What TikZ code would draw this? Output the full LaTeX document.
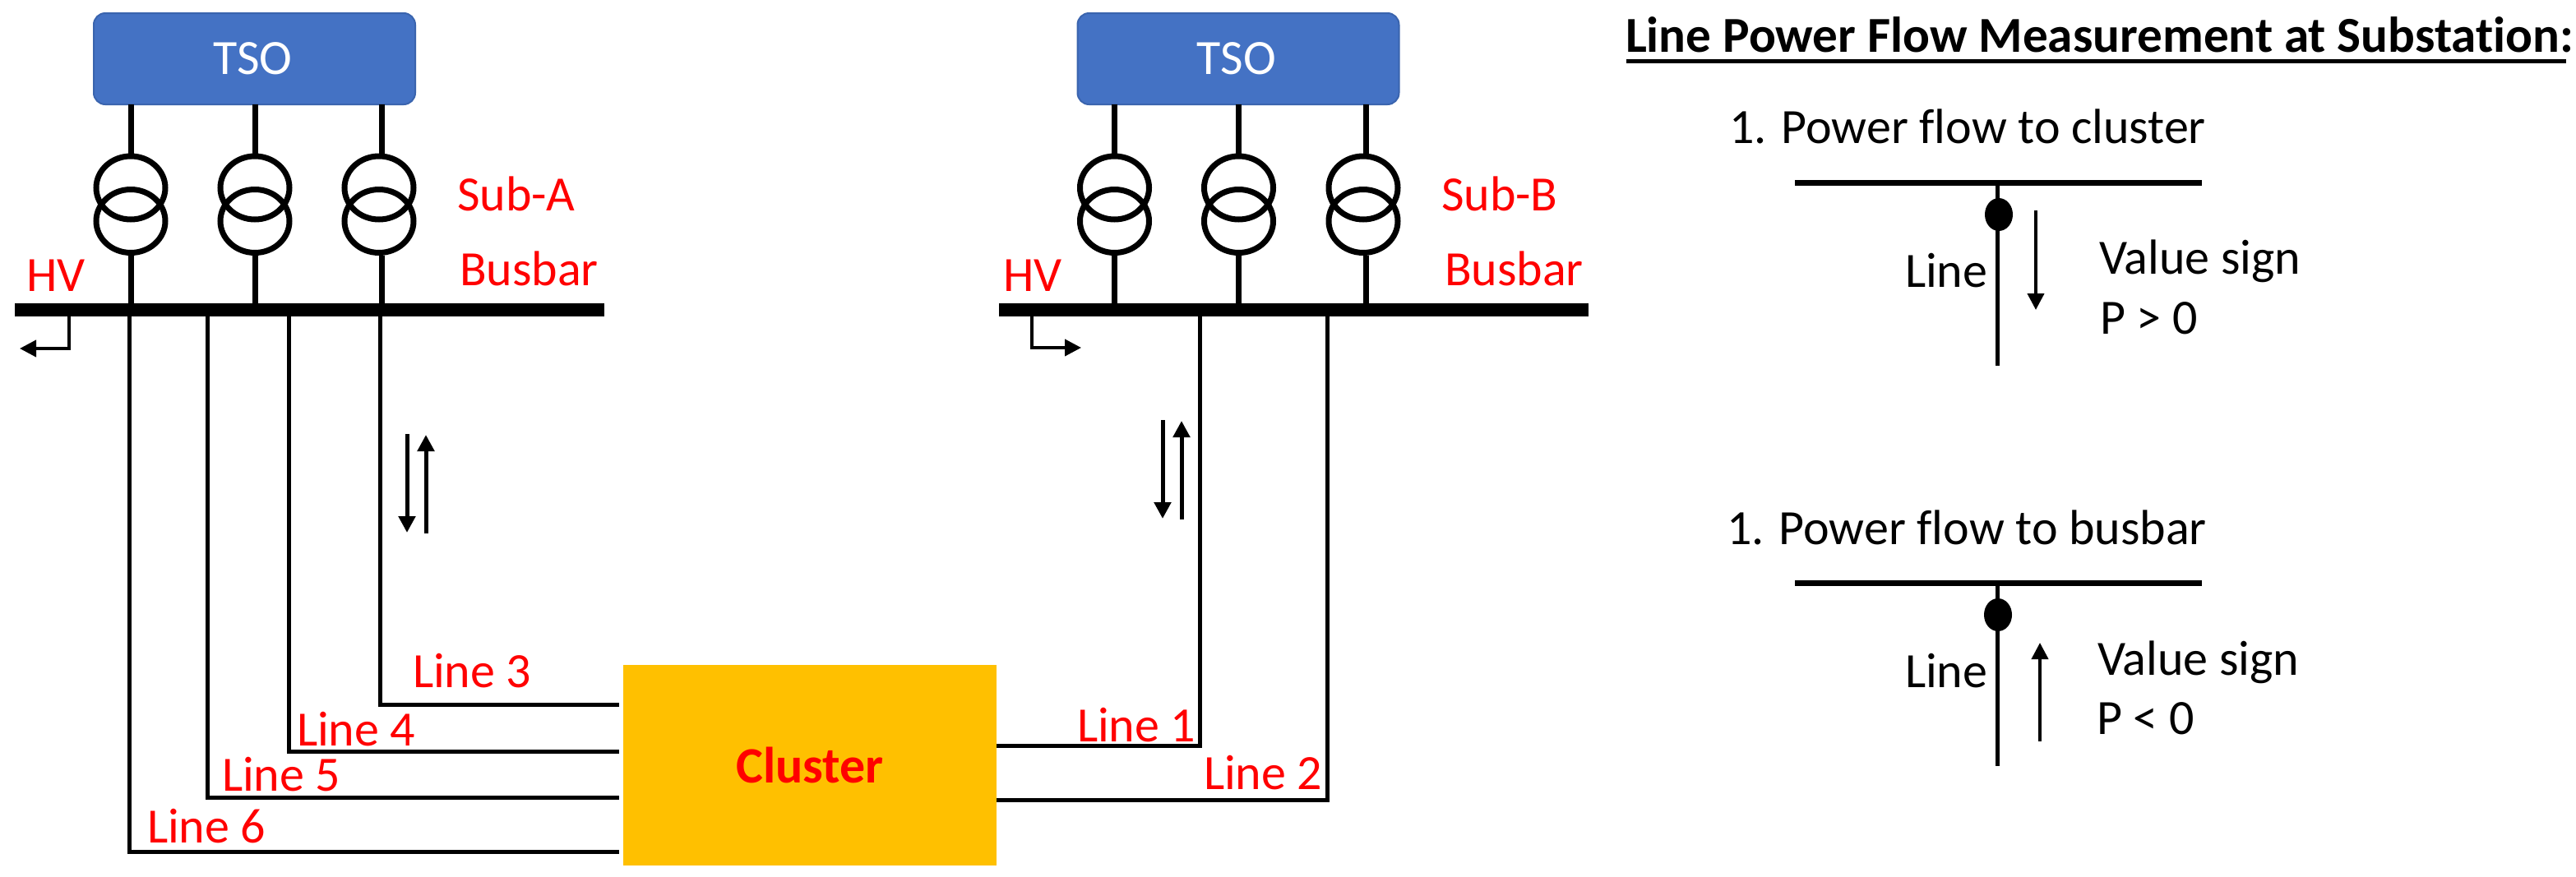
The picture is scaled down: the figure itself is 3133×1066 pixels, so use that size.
\documentclass[tikz,border=0pt]{standalone}
\usepackage{fontspec}
\setmainfont{Carlito}[Ligatures=NoCommon]
\usetikzlibrary{arrows.meta,shapes.geometric}
\definecolor{tsoblue}{HTML}{4472C4}
\definecolor{tsoedge}{HTML}{3A64AE}
\definecolor{clusterorange}{HTML}{FFC000}
\definecolor{labelred}{HTML}{FF0000}
\tikzset{
  x=1pt,y=-1pt,
  tso/.style={draw=tsoedge,line width=2pt,fill=tsoblue,rounded corners=14pt,minimum width=391pt,minimum height=111pt,inner sep=0pt,outer sep=0pt,text=white,font=\fontsize{60}{72}\selectfont},
  coil/.style={ellipse,draw=black,line width=7pt,minimum width=84pt,minimum height=77pt,inner sep=0pt,outer sep=0pt},
  bus/.style={fill=black,minimum width=717pt,minimum height=16pt,inner sep=0pt,outer sep=0pt},
  mbar/.style={fill=black,minimum width=495pt,minimum height=7pt,inner sep=0pt,outer sep=0pt},
  dot/.style={ellipse,fill=black,minimum width=34pt,minimum height=40pt,inner sep=0pt,outer sep=0pt},
  cluster/.style={fill=clusterorange,minimum width=454pt,minimum height=244pt,inner sep=0pt,outer sep=0pt,text=labelred,font=\fontsize{62}{74}\selectfont\bfseries},
  stub/.style={line width=7pt},
  feeder/.style={line width=5pt,line join=miter},
  thin line/.style={line width=5pt},
  flow/.style={line width=5pt,-{Triangle[length=20pt,width=20pt]}},
  small flow/.style={line width=4pt,-{Triangle[length=20pt,width=20pt]}},
  red lbl/.style={anchor=base west,inner sep=0pt,outer sep=0pt,text=labelred,font=\fontsize{60}{72}\selectfont},
  blk lbl/.style={anchor=base west,inner sep=0pt,outer sep=0pt,text=black,font=\fontsize{60}{72}\selectfont},
  head lbl/.style={anchor=base west,inner sep=0pt,outer sep=0pt,text=black,font=\fontsize{61.2}{74}\selectfont\bfseries},
}
\begin{document}
\begin{tikzpicture}
\useasboundingbox (0,0) rectangle (3133,1066);

% Substation A
\node[tso] (tsoA) at (309.5,71.5) {\hspace*{-4pt}TSO};
\node[coil] (a1u) at (159,228.5) {};
\node[coil] (a1l) at (159,269) {};
\node[coil] (a2u) at (310,228.5) {};
\node[coil] (a2l) at (310,269) {};
\node[coil] (a3u) at (461,228.5) {};
\node[coil] (a3l) at (461,269) {};
\node[bus] (busA) at (376.5,377) {};
\draw[stub] (a1u.north |- tsoA.south) -- (a1u.north);
\draw[stub] (a2u.north |- tsoA.south) -- (a2u.north);
\draw[stub] ([xshift=3pt]a3u.north |- tsoA.south) -- ([xshift=3pt]a3u.north);
\draw[stub] (a1l.south) -- (a1l.south |- busA.north);
\draw[stub] (a2l.south) -- (a2l.south |- busA.north);
\draw[stub] ([xshift=3pt,yshift=-3pt]a3l.south) -- ([xshift=3pt]a3l.south |- busA.north);

% Substation B
\node[tso] (tsoB) at (1506,71.5) {\hspace*{-4pt}TSO};
\node[coil] (b1u) at (1355.5,228.5) {};
\node[coil] (b1l) at (1355.5,269) {};
\node[coil] (b2u) at (1506.5,228.5) {};
\node[coil] (b2l) at (1506.5,269) {};
\node[coil] (b3u) at (1658,228.5) {};
\node[coil] (b3l) at (1658,269) {};
\node[bus] (busB) at (1573,377) {};
\draw[stub] (b1u.north |- tsoB.south) -- (b1u.north);
\draw[stub] (b2u.north |- tsoB.south) -- (b2u.north);
\draw[stub] ([xshift=3pt]b3u.north |- tsoB.south) -- ([xshift=3pt]b3u.north);
\draw[stub] (b1l.south) -- (b1l.south |- busB.north);
\draw[stub] (b2l.south) -- (b2l.south |- busB.north);
\draw[stub] ([xshift=3pt,yshift=-3pt]b3l.south) -- ([xshift=3pt]b3l.south |- busB.north);

% Cluster
\node[cluster] (cl) at (985,931) {Cluster};

% Feeders, busbar A to cluster
\coordinate (f3a) at (462,385);   \coordinate (f3b) at (753,857);
\coordinate (f4a) at (351.5,385); \coordinate (f4b) at (753,914);
\coordinate (f5a) at (252.5,385); \coordinate (f5b) at (753,970);
\coordinate (f6a) at (157,385);   \coordinate (f6b) at (753,1036);
\draw[feeder] (f3a) |- (f3b);
\draw[feeder] (f4a) |- (f4b);
\draw[feeder] (f5a) |- (f5b);
\draw[feeder] (f6a) |- (f6b);

% Feeders, busbar B to cluster
\coordinate (f1a) at (1459,385); \coordinate (f1b) at (1212,907);
\coordinate (f2a) at (1614,385); \coordinate (f2b) at (1212,973);
\draw[feeder] (f1a) |- (f1b);
\draw[feeder] (f2a) |- (f2b);

% Direction arrows on feeders
\coordinate (da1) at (495,528);  \coordinate (da2) at (495,648);
\coordinate (ua1) at (518,649);  \coordinate (ua2) at (518,529);
\coordinate (db1) at (1414,511); \coordinate (db2) at (1414,631);
\coordinate (ub1) at (1437,632); \coordinate (ub2) at (1437,512);
\draw[flow] (da1) -- (da2);
\draw[flow] (ua1) -- (ua2);
\draw[flow] (db1) -- (db2);
\draw[flow] (ub1) -- (ub2);

% HV arrows
\coordinate (hvAa) at (84,385);   \coordinate (hvAb) at (24,424);
\coordinate (hvBa) at (1255,385); \coordinate (hvBb) at (1315,423);
\draw[small flow] (hvAa) |- (hvAb);
\draw[small flow] (hvBa) |- (hvBb);

% Labels, left part
\node[red lbl] (subA) at (556,256) {Sub-A};
\node[red lbl] (busbarA) at (559,347) {Busbar};
\node[red lbl] (hvA) at (32,354) {HV};
\node[red lbl] (subB) at (1753,256) {Sub-B};
\node[red lbl] (busbarB) at (1757,347) {Busbar};
\node[red lbl] (hvB) at (1220,354) {HV};
\node[red lbl] (l3) at (502,836) {Line 3};
\node[red lbl] (l4) at (361,907) {Line 4};
\node[red lbl] (l5) at (270,962) {Line 5};
\node[red lbl] (l6) at (179,1025) {Line 6};
\node[red lbl] (l1) at (1310,902) {Line 1};
\node[red lbl] (l2) at (1464,960) {Line 2};

% Right part: heading
\node[head lbl] (head) at (1977,63) {Line Power Flow Measurement at Substation:};
\coordinate (ula) at (1978,74); \coordinate (ulb) at (3121,74);
\draw[line width=5pt] (ula) -- (ulb);

% Case 1
\node[blk lbl] (c1t) at (2103,174) {1. Power flow to cluster};
\node[mbar] (c1bar) at (2430.5,222) {};
\node[dot] (c1dot) at (2431,261) {};
\coordinate (c1end) at (2429,445);
\draw[thin line] (c1bar.center -| c1end) -- (c1end);
\coordinate (c1a) at (2476,256); \coordinate (c1b) at (2476,377);
\draw[small flow] (c1a) -- (c1b);
\node[blk lbl] (c1line) at (2317,349) {Line};
\node[blk lbl] (c1val) at (2553,333) {Value sign};
\node[blk lbl] (c1p) at (2554,406) {P > 0};

% Case 2
\node[blk lbl] (c2t) at (2100,662) {1. Power flow to busbar};
\node[mbar] (c2bar) at (2430.5,709) {};
\node[dot] (c2dot) at (2430,748) {};
\coordinate (c2end) at (2429,932);
\draw[thin line] (c2bar.center -| c2end) -- (c2end);
\coordinate (c2a) at (2481,902); \coordinate (c2b) at (2481,782);
\draw[small flow] (c2a) -- (c2b);
\node[blk lbl] (c2line) at (2317,836) {Line};
\node[blk lbl] (c2val) at (2551,821) {Value sign};
\node[blk lbl] (c2p) at (2550,893) {P < 0};
\end{tikzpicture}
\end{document}
